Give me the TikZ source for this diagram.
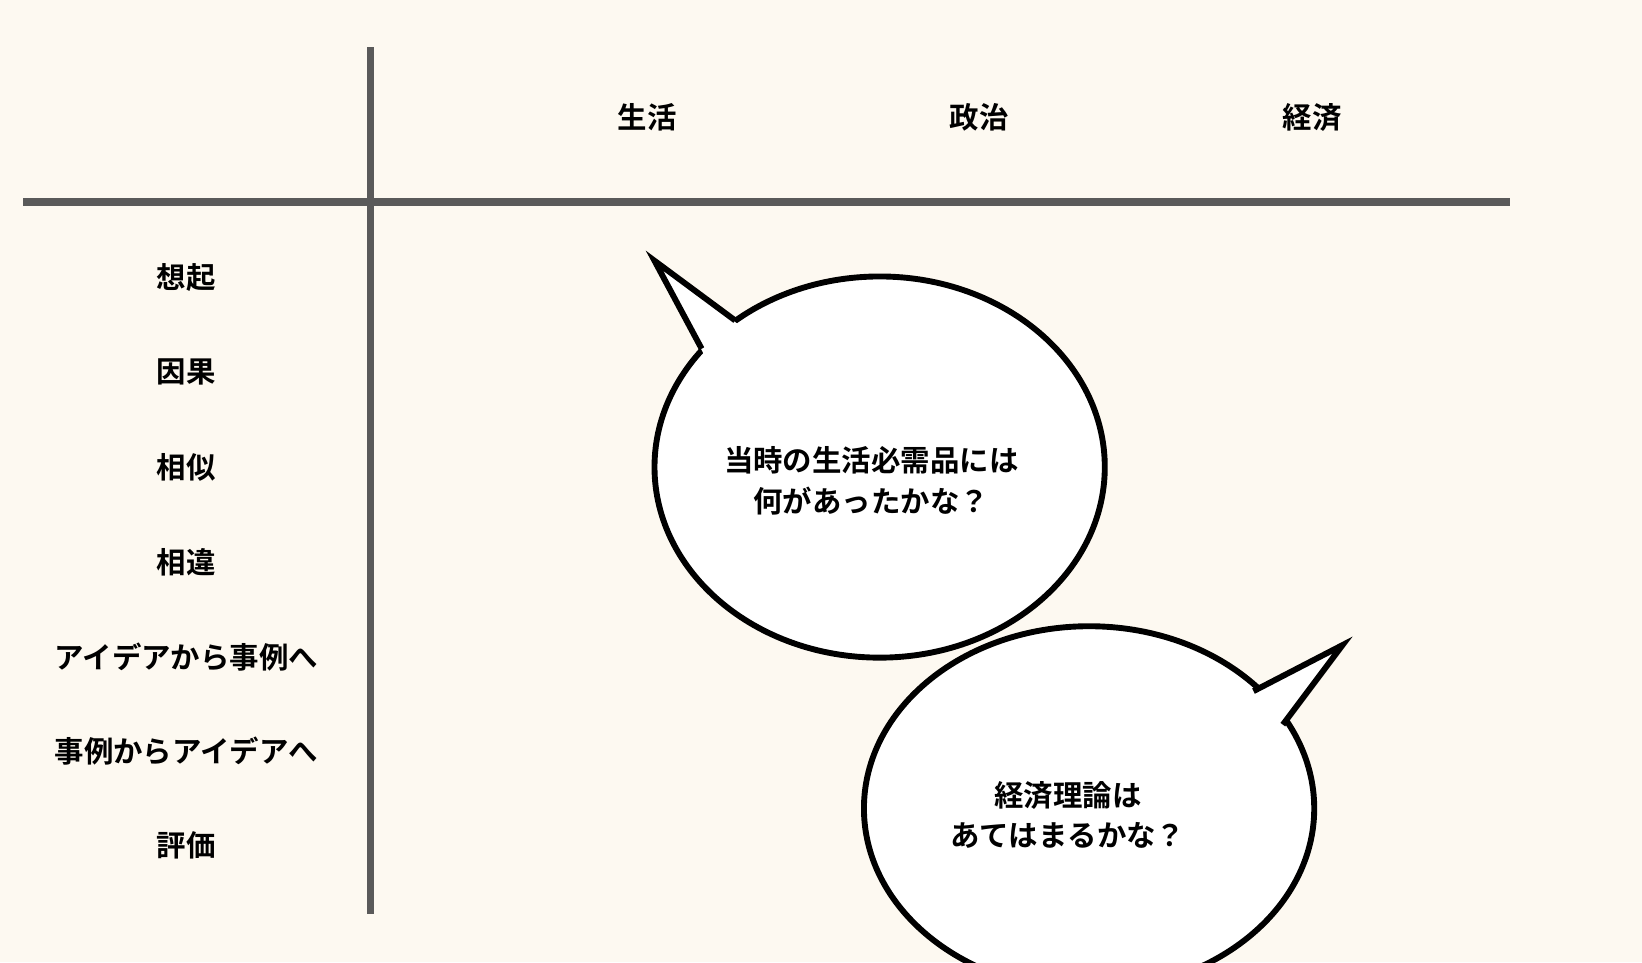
\documentclass[tikz,border=0pt]{standalone}
\usepackage{fontspec}
\setmainfont{Noto Sans CJK JP}[BoldFont={Noto Sans CJK JP Bold}]
\usetikzlibrary{positioning}
\definecolor{paper}{HTML}{FDF9F1}
\definecolor{rule}{HTML}{5A5A5A}

\begin{document}
\begin{tikzpicture}[
    x=0.02cm, y=-0.02cm,
    every node/.style={font=\bfseries\fontsize{16}{22}\selectfont, align=center},
    grid/.style={draw=rule, line width=4pt},
    bubble/.style={draw=black, fill=white, line width=3.2pt}
]
\clip (0,0) rectangle (1568,919);
\fill[paper] (0,0) rectangle (1568,919);
% table rules
\coordinate (vtop) at (354,45);
\coordinate (vbot) at (354,873);
\coordinate (hleft) at (22,193);
\coordinate (hright) at (1442,193);
\draw[grid] (vtop) -- (vbot);
\draw[grid] (hleft) -- (hright);
% column heads
\node (life) at (618,112) {生活};
\node (politics) at (935,112) {政治};
\node (economy) at (1253,112) {経済};
% row heads
\node (recall) at (178,265) {想起};
\node (cause) at (178,355) {因果};
\node (similar) at (178,446) {相似};
\node (differ) at (178,537) {相違};
\node (ideacase) at (178,627) {アイデアから事例へ};
\node (caseidea) at (178,717) {事例からアイデアへ};
\node (evaluate) at (178,807) {評価};
% first bubble
\draw[bubble] (840,446) ellipse [x radius=215, y radius=182];
\fill[white] (672,338) -- (625,249) -- (704,309) -- (720,330) -- cycle;
\draw[line width=3.2pt, line join=miter] (670,333) -- (625,249) -- (702,306);
\node (question1) at (832,459) {当時の生活必需品には\\何があったかな？};
% second bubble
\draw[bubble] (1040,772) ellipse [x radius=215, y radius=174];
\fill[white] (1195,664) -- (1282,616) -- (1223,696) -- (1200,690) -- cycle;
\draw[line width=3.2pt, line join=miter] (1197,660) -- (1282,616) -- (1225,692);
\node (question2) at (1020,778) {経済理論は\\あてはまるかな？};
\end{tikzpicture}
\end{document}
